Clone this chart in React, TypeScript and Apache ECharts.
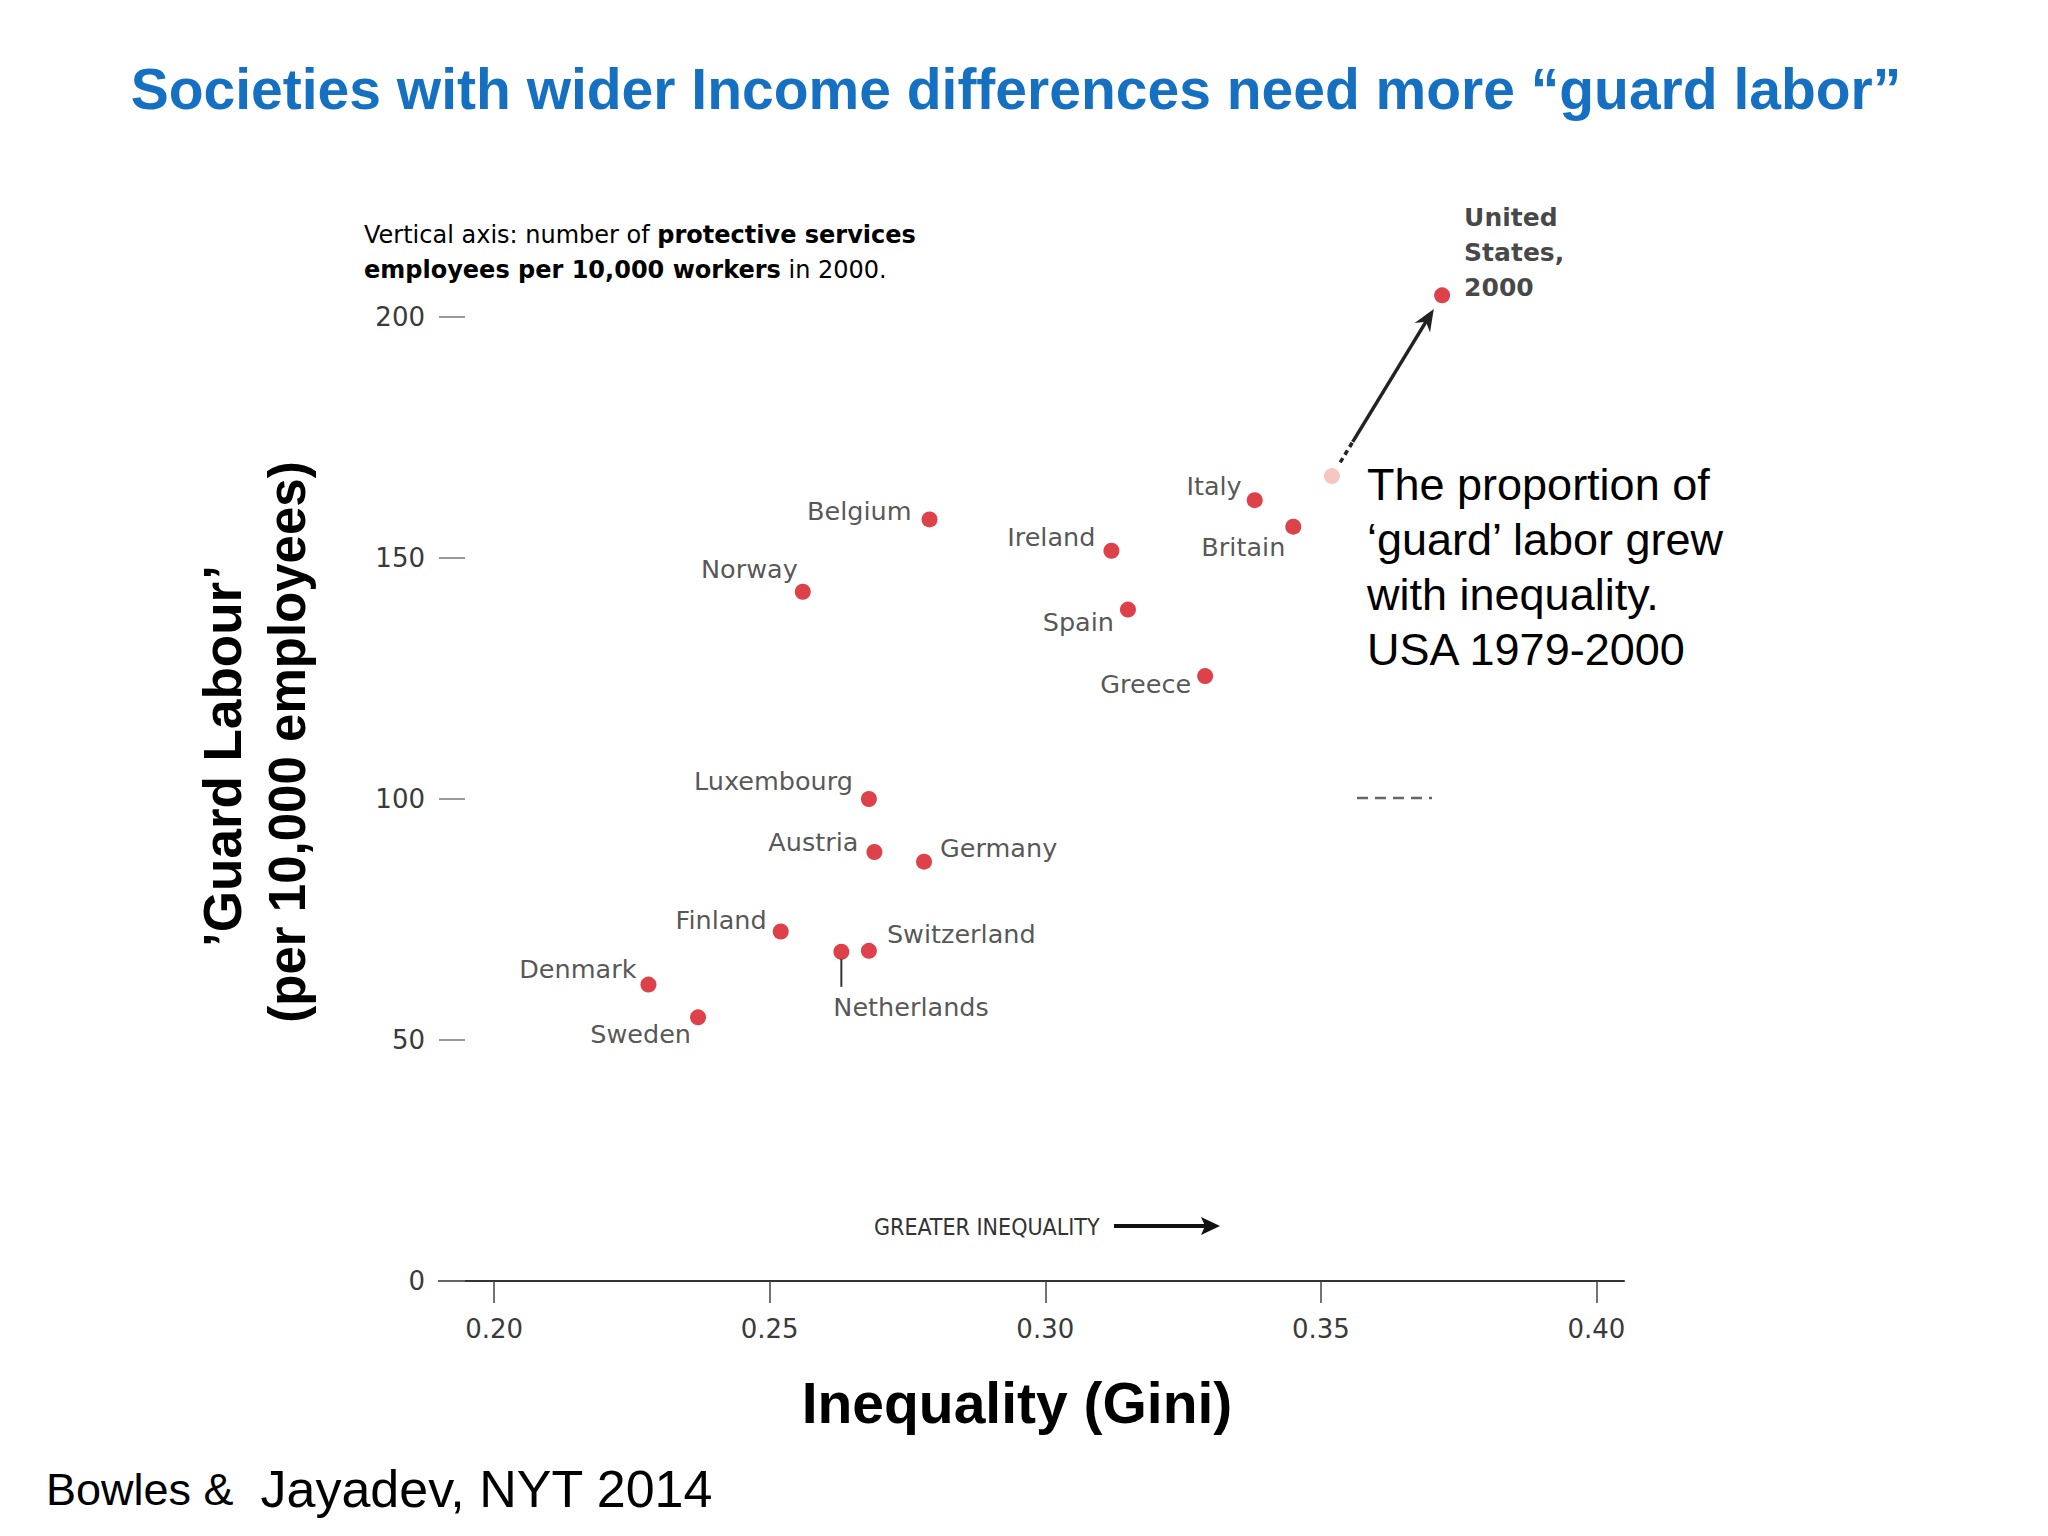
import React, { useEffect, useRef } from "react";
import * as echarts from "echarts";

// ---- data ----
const countries = [
  "Belgium", "Norway", "Ireland", "Italy", "Britain", "Spain", "Greece",
  "Luxembourg", "Austria", "Germany", "Finland", "Switzerland", "Netherlands",
  "Denmark", "Sweden",
];
const giniValues = [
  0.279, 0.256, 0.312, 0.338, 0.345, 0.315, 0.329,
  0.268, 0.269, 0.278, 0.252, 0.268, 0.263,
  0.228, 0.237,
];
const guardLabour = [
  158, 143, 151.5, 162, 156.5, 139.3, 125.5,
  100, 89, 87, 72.5, 68.5, 68.3,
  61.5, 54.7,
];
const usaYears = ["1979", "2000"];
const usaGini = [0.352, 0.372];
const usaGuard = [167, 204.5];
const xTickValues = [0.2, 0.25, 0.3, 0.35, 0.4];
const yTickValues = [0, 50, 100, 150, 200];

// ---- label placement (style only) ----
const labelLayout: Record<string, { align: string; dx: number; dy: number }> = {
  Belgium: { align: "right", dx: -18, dy: -8 },
  Norway: { align: "right", dx: -5, dy: -23 },
  Ireland: { align: "right", dx: -16, dy: -14 },
  Italy: { align: "right", dx: -13, dy: -14 },
  Britain: { align: "right", dx: -8, dy: 20 },
  Spain: { align: "right", dx: -14, dy: 12 },
  Greece: { align: "right", dx: -14, dy: 8 },
  Luxembourg: { align: "right", dx: -16, dy: -18 },
  Austria: { align: "right", dx: -16, dy: -10 },
  Germany: { align: "left", dx: 16, dy: -14 },
  Finland: { align: "right", dx: -14, dy: -12 },
  Switzerland: { align: "left", dx: 18, dy: -17 },
  Netherlands: { align: "left", dx: -8, dy: 55 },
  Denmark: { align: "right", dx: -12, dy: -16 },
  Sweden: { align: "right", dx: -7, dy: 17 },
};

const RED = "#d5121c";
const PINK = "#f6b8b2";
const LABEL_FONT = "'DejaVu Sans', Verdana, sans-serif";
const ARIAL = "'Liberation Sans', Arial, Helvetica, sans-serif";

export default function App() {
  const ref = useRef<HTMLDivElement>(null);

  useEffect(() => {
    if (!ref.current) return;
    const chart = echarts.init(ref.current, undefined, { renderer: "svg" });

    const countryData = countries.map((name, i) => {
      const l = labelLayout[name];
      return {
        name,
        value: [giniValues[i], guardLabour[i]],
        label: {
          show: true,
          position: "inside",
          align: l.align,
          verticalAlign: "middle",
          offset: [l.dx, l.dy],
        },
      };
    });

    const usaData = usaYears.map((yr, i) => ({
      name: "United States, " + yr,
      value: [usaGini[i], usaGuard[i]],
      itemStyle: { color: yr === "2000" ? RED : PINK },
      label:
        yr === "2000"
          ? {
              show: true,
              position: "inside",
              align: "left",
              verticalAlign: "middle",
              offset: [22, -43],
              formatter: "United\nStates,\n2000",
              fontWeight: "bold",
              fontSize: 25,
              lineHeight: 35,
              color: "#151515",
            }
          : { show: false },
    }));

    const option: any = {
      animation: false,
      backgroundColor: "#ffffff",
      grid: { left: 439, top: 317, width: 1185, height: 964, containLabel: false },
      xAxis: {
        type: "value",
        min: 0.19,
        max: 0.405,
        splitLine: { show: false },
        axisLine: { show: true, lineStyle: { color: "#333", width: 2 } },
        axisTick: {
          show: true,
          length: 22,
          lineStyle: { color: "#444", width: 1.5 },
          customValues: xTickValues,
        },
        axisLabel: {
          customValues: xTickValues,
          formatter: (v: number) => v.toFixed(2),
          fontFamily: LABEL_FONT,
          fontSize: 26,
          color: "#3a3a3a",
          margin: 35,
        },
      },
      yAxis: {
        type: "value",
        min: 0,
        max: 200,
        interval: 50,
        splitLine: { show: false },
        axisLine: { show: false },
        axisTick: {
          show: true,
          inside: true,
          length: 26,
          lineStyle: { color: "#777", width: 1.5 },
        },
        axisLabel: {
          customValues: yTickValues,
          fontFamily: LABEL_FONT,
          fontSize: 26,
          color: "#3a3a3a",
          margin: 14,
        },
      },
      series: [
        {
          type: "scatter",
          name: "countries",
          symbol: "circle",
          symbolSize: 16,
          clip: false,
          itemStyle: { color: RED },
          label: {
            formatter: "{b}",
            fontFamily: LABEL_FONT,
            fontSize: 25.5,
            color: "#2a2a2a",
          },
          data: countryData,
          z: 5,
        },
        {
          type: "scatter",
          name: "usa",
          symbol: "circle",
          symbolSize: 16,
          clip: false,
          label: { fontFamily: LABEL_FONT },
          data: usaData,
          z: 5,
        },
      ],
    };

    chart.setOption(option);

    // ---- annotations derived from the chart's scales ----
    const p0 = chart.convertToPixel({ gridIndex: 0 }, [usaGini[0], usaGuard[0]]) as number[];
    const p1 = chart.convertToPixel({ gridIndex: 0 }, [usaGini[1], usaGuard[1]]) as number[];
    const dx = p1[0] - p0[0];
    const dy = p1[1] - p0[1];
    const len = Math.sqrt(dx * dx + dy * dy);
    const ux = dx / len;
    const uy = dy / len;
    const nx = -uy;
    const ny = ux;
    const at = (p: number[], d: number, s = 0) => [p[0] + ux * d + nx * s, p[1] + uy * d + ny * s];
    const start = at(p0, 16);
    const dashEnd = at(p0, 40);
    const tip = at(p1, -16);
    const lineEnd = at(tip, -14);
    const h1 = at(tip, -22, 9);
    const h2 = at(tip, -15);
    const h3 = at(tip, -22, -9);

    const ni = countries.indexOf("Netherlands");
    const pn = chart.convertToPixel({ gridIndex: 0 }, [giniValues[ni], guardLabour[ni]]) as number[];

    const graphics: any[] = [
      {
        type: "text",
        z: 100,
        style: {
          text: "Societies with wider Income differences need more \u201cguard labor\u201d",
          x: 1016,
          y: 89,
          fill: "#1570c1",
          font: `bold 57px ${ARIAL}`,
          textAlign: "center",
          align: "center",
          textVerticalAlign: "middle",
          verticalAlign: "middle",
        },
      },
      {
        type: "text",
        z: 100,
        style: {
          text:
            "{n|Vertical axis: number of }{b|protective services}\n{b|employees per 10,000 workers}{n| in 2000.}",
          x: 364,
          y: 252,
          textAlign: "left",
          align: "left",
          textVerticalAlign: "middle",
          verticalAlign: "middle",
          rich: {
            n: { fontFamily: LABEL_FONT, fontSize: 24, color: "#333", lineHeight: 35 },
            b: { fontFamily: LABEL_FONT, fontSize: 24, fontWeight: "bold", color: "#1a1a1a", lineHeight: 35 },
          },
        },
      },
      {
        type: "text",
        z: 100,
        x: 222,
        y: 756,
        rotation: Math.PI / 2,
        style: {
          text: "\u2019Guard Labour\u2019",
          fill: "#000",
          font: `bold 53px ${ARIAL}`,
          textAlign: "center",
          align: "center",
          textVerticalAlign: "middle",
          verticalAlign: "middle",
        },
      },
      {
        type: "text",
        z: 100,
        x: 287,
        y: 742,
        rotation: Math.PI / 2,
        style: {
          text: "(per 10,000 employees)",
          fill: "#000",
          font: `bold 51px ${ARIAL}`,
          textAlign: "center",
          align: "center",
          textVerticalAlign: "middle",
          verticalAlign: "middle",
        },
      },
      {
        type: "text",
        z: 100,
        style: {
          text: "Inequality (Gini)",
          x: 1017,
          y: 1403,
          fill: "#000",
          font: `bold 57px ${ARIAL}`,
          textAlign: "center",
          align: "center",
          textVerticalAlign: "middle",
          verticalAlign: "middle",
        },
      },
      {
        type: "text",
        z: 100,
        style: {
          text: "{a|Bowles & }{b| Jayadev, NYT 2014}",
          x: 46,
          y: 1489,
          textAlign: "left",
          align: "left",
          textVerticalAlign: "middle",
          verticalAlign: "middle",
          rich: {
            a: { fontFamily: ARIAL, fontSize: 45, color: "#000" },
            b: { fontFamily: ARIAL, fontSize: 52, color: "#000" },
          },
        },
      },
      {
        type: "text",
        z: 100,
        style: {
          text: "The proportion of\n\u2018guard\u2019 labor grew\nwith inequality.\nUSA 1979-2000",
          x: 1367,
          y: 567,
          fill: "#000",
          font: `45px ${ARIAL}`,
          lineHeight: 55,
          textAlign: "left",
          align: "left",
          textVerticalAlign: "middle",
          verticalAlign: "middle",
        },
      },
      {
        type: "text",
        z: 100,
        style: {
          text: "GREATER INEQUALITY",
          x: 874,
          y: 1227,
          fill: "#333",
          font: `23px 'DejaVu Sans Condensed', 'Liberation Sans Narrow', sans-serif`,
          textAlign: "left",
          align: "left",
          textVerticalAlign: "middle",
          verticalAlign: "middle",
        },
      },
      {
        type: "line",
        z: 100,
        shape: { x1: 1114, y1: 1226, x2: 1206, y2: 1226 },
        style: { stroke: "#111", lineWidth: 4 },
      },
      {
        type: "polygon",
        z: 100,
        shape: { points: [[1220, 1226], [1201, 1217], [1205, 1226], [1201, 1235]] },
        style: { fill: "#111" },
      },
      {
        type: "line",
        z: 100,
        shape: { x1: 1357, y1: 798, x2: 1432, y2: 798 },
        style: { stroke: "#666", lineWidth: 2.5, lineDash: [11, 7] },
      },
      // USA arrow
      {
        type: "line",
        z: 100,
        shape: { x1: start[0], y1: start[1], x2: dashEnd[0], y2: dashEnd[1] },
        style: { stroke: "#222", lineWidth: 3.5, lineDash: [5, 4] },
      },
      {
        type: "line",
        z: 100,
        shape: { x1: dashEnd[0], y1: dashEnd[1], x2: lineEnd[0], y2: lineEnd[1] },
        style: { stroke: "#222", lineWidth: 3.5 },
      },
      {
        type: "polygon",
        z: 100,
        shape: { points: [tip, h1, h2, h3] },
        style: { fill: "#222" },
      },
      // Netherlands leader line
      {
        type: "line",
        z: 100,
        shape: { x1: pn[0], y1: pn[1] + 7, x2: pn[0], y2: pn[1] + 35 },
        style: { stroke: "#333", lineWidth: 2 },
      },
    ];

    chart.setOption({ graphic: graphics });

    return () => {
      chart.dispose();
    };
  }, []);

  return (
    <div
      ref={ref}
      style={{ position: "fixed", left: 0, top: 0, width: 2048, height: 1536, background: "#fff" }}
    />
  );
}
